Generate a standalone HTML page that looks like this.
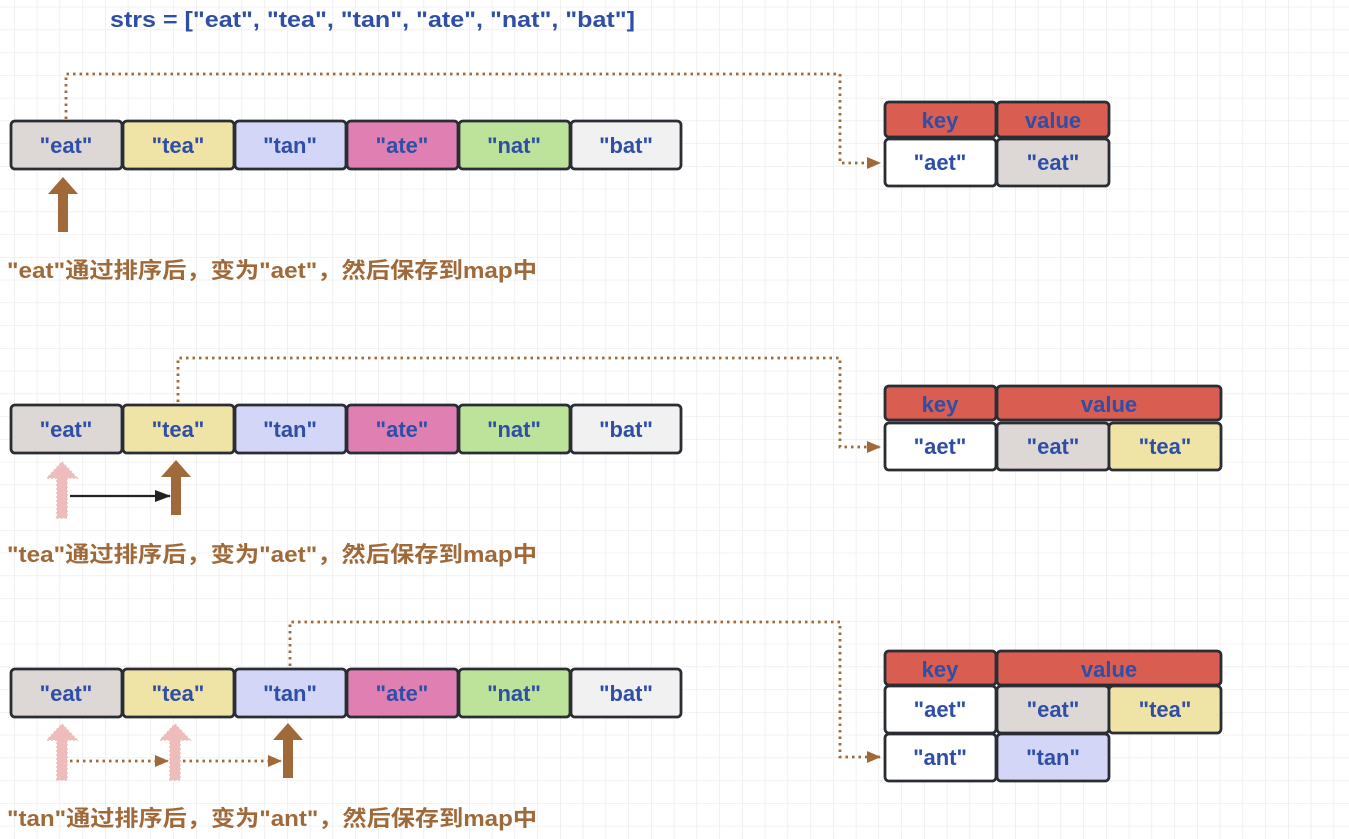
<!DOCTYPE html>
<html><head><meta charset="utf-8"><style>
html,body{margin:0;padding:0;background:#fff;}
svg{display:block;}
text{font-family:"Liberation Sans","Noto Sans CJK SC",sans-serif;font-weight:bold;}
</style></head><body>
<svg width="1349" height="839" viewBox="0 0 1349 839" xmlns="http://www.w3.org/2000/svg">
<defs>
<pattern id="g" x="14" y="6.75" width="22.75" height="22.75" patternUnits="userSpaceOnUse">
<path d="M0 0V22.75M0 0H22.75" stroke="#e9e9e9" stroke-width="1.3" fill="none"/>
</pattern>
<marker id="ab" markerWidth="14" markerHeight="12" refX="13" refY="6" orient="auto" markerUnits="userSpaceOnUse"><path d="M0 0L14 6L0 12Z" fill="#a0693a"/></marker>
<marker id="ak" markerWidth="16" markerHeight="12" refX="15" refY="6" orient="auto" markerUnits="userSpaceOnUse"><path d="M0 0L16 6L0 12Z" fill="#222"/></marker>
</defs>
<rect width="1349" height="839" fill="url(#g)"/>
<text x="110" y="27" font-size="22" fill="#2f4ea6" textLength="525" lengthAdjust="spacingAndGlyphs">strs = ["eat", "tea", "tan", "ate", "nat", "bat"]</text>

<g stroke="#a0693a" stroke-width="2.8" stroke-dasharray="2.5 4" fill="none">
<path d="M66 119V74H840V163H880" marker-end="url(#ab)"/>
<path d="M178 402V358H840V447H880" marker-end="url(#ab)"/>
<path d="M290 666V622H840V757H880" marker-end="url(#ab)"/>
<path d="M70 761H168" marker-end="url(#ab)"/>
<path d="M183 761H281" marker-end="url(#ab)"/>
</g>

<g stroke="#2a2d33" stroke-width="2.8">
<g id="arr">
<rect x="11" y="121" width="111" height="48" rx="4" fill="#ddd8d6"/>
<rect x="123" y="121" width="111" height="48" rx="4" fill="#f0e3a6"/>
<rect x="235" y="121" width="111" height="48" rx="4" fill="#d3d6f6"/>
<rect x="347" y="121" width="111" height="48" rx="4" fill="#e07fb2"/>
<rect x="459" y="121" width="111" height="48" rx="4" fill="#bde39a"/>
<rect x="571" y="121" width="110" height="48" rx="4" fill="#f1f1f1"/>
</g>
<use href="#arr" y="284"/>
<use href="#arr" y="548"/>
</g>
<g font-size="22" fill="#2f4ea6" text-anchor="middle">
<g id="arrt">
<text x="66" y="153">"eat"</text><text x="178" y="153">"tea"</text><text x="290" y="153">"tan"</text>
<text x="402" y="153">"ate"</text><text x="514" y="153">"nat"</text><text x="626" y="153">"bat"</text>
</g>
<use href="#arrt" y="284"/>
<use href="#arrt" y="548"/>
</g>

<g stroke="#2a2d33" stroke-width="2.8">
<rect x="885" y="102" width="111" height="35" rx="4" fill="#d95d50"/>
<rect x="997" y="102" width="112" height="35" rx="4" fill="#d95d50"/>
<rect x="885" y="139" width="111" height="47" rx="4" fill="#fff"/>
<rect x="997" y="139" width="112" height="47" rx="4" fill="#ddd8d6"/>

<rect x="885" y="386" width="111" height="34" rx="4" fill="#d95d50"/>
<rect x="997" y="386" width="224" height="34" rx="4" fill="#d95d50"/>
<rect x="885" y="423" width="111" height="47" rx="4" fill="#fff"/>
<rect x="997" y="423" width="112" height="47" rx="4" fill="#ddd8d6"/>
<rect x="1109" y="423" width="112" height="47" rx="4" fill="#f0e3a6"/>

<rect x="885" y="651" width="111" height="34" rx="4" fill="#d95d50"/>
<rect x="997" y="651" width="224" height="34" rx="4" fill="#d95d50"/>
<rect x="885" y="686" width="111" height="47" rx="4" fill="#fff"/>
<rect x="997" y="686" width="112" height="47" rx="4" fill="#ddd8d6"/>
<rect x="1109" y="686" width="112" height="47" rx="4" fill="#f0e3a6"/>
<rect x="885" y="734" width="111" height="47" rx="4" fill="#fff"/>
<rect x="997" y="734" width="112" height="47" rx="4" fill="#d3d6f6"/>
</g>
<g font-size="22" fill="#2f4ea6" text-anchor="middle">
<text x="940" y="128">key</text><text x="1053" y="128">value</text>
<text x="940" y="170">"aet"</text><text x="1053" y="170">"eat"</text>
<text x="940" y="412">key</text><text x="1109" y="412">value</text>
<text x="940" y="454">"aet"</text><text x="1053" y="454">"eat"</text><text x="1165" y="454">"tea"</text>
<text x="940" y="677">key</text><text x="1109" y="677">value</text>
<text x="940" y="717">"aet"</text><text x="1053" y="717">"eat"</text><text x="1165" y="717">"tea"</text>
<text x="940" y="765">"ant"</text><text x="1053" y="765">"tan"</text>
</g>

<g fill="#a0693a">
<path d="M58 232V194H48L63 177L78 194H68V232Z"/>
<path d="M171 515V477H161L176 460L191 477H181V515Z"/>
<path d="M283 778V740H273L288 723L303 740H293V778Z"/>
</g>
<g fill="#efbcbc" stroke="#efbcbc" stroke-width="1.5" stroke-dasharray="2 2">
<path d="M57 518V478H47L62 462L77 478H67V518Z"/>
<path d="M57 780V740H47L62 724L77 740H67V780Z"/>
<path d="M170 780V740H160L175 724L190 740H180V780Z"/>
</g>
<path d="M70 496H170" stroke="#222" stroke-width="2.2" marker-end="url(#ak)"/>

<g font-size="22" fill="#a0693a">
<text x="7" y="278" textLength="530" lengthAdjust="spacingAndGlyphs">"eat"通过排序后，变为"aet"，然后保存到map中</text>
<text x="7" y="562" textLength="530" lengthAdjust="spacingAndGlyphs">"tea"通过排序后，变为"aet"，然后保存到map中</text>
<text x="7" y="826" textLength="530" lengthAdjust="spacingAndGlyphs">"tan"通过排序后，变为"ant"，然后保存到map中</text>
</g>
</svg>
</body></html>
